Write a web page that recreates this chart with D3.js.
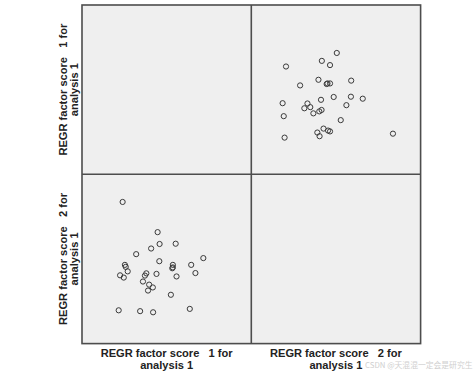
<!DOCTYPE html>
<html>
<head>
<meta charset="utf-8">
<script src="https://cdn.jsdelivr.net/npm/d3@7"></script>
<style>
  body { margin: 0; background: #fff; }
  svg text { font-family: Arial, "Liberation Sans", sans-serif; }
</style>
</head>
<body>
<div id="chart"></div>
<script>
// factor scores per case
const score1 = [-1.56, -0.32, -0.25, 0.32, -0.55, -1.08, -0.26, 1.30, 0.22, 0.22,
  0.87, 1.02, -1.48, -1.45, -1.38, -1.65, -1.52, -0.72, -0.77, -0.36,
  0.35, -0.84, -0.62, -0.49, -0.66, 0.15, -1.70, -0.94, -0.48, 0.82, 0.20];
const score2 = [2.02, 0.95, 0.53, 0.54, 0.37, 0.17, -0.08, 0.03, -0.21, -0.30,
  -0.21, -0.50, -0.21, -0.28, -0.44, -0.58, -0.66, -0.51, -0.59, -0.53,
  -0.62, -0.80, -0.91, -1.01, -1.12, -1.27, -1.82, -1.85, -1.89, -1.77, -0.33];
const varLabels = ["REGR factor score   1 for|analysis 1", "REGR factor score   2 for|analysis 1"];
const scoreDomain = [-3, 3];

document.addEventListener("DOMContentLoaded", function () {
  const width = 474, height = 379;
  const left = 82, top = 5, cell = 169.3;

  const svg = d3.select("#chart").append("svg")
    .attr("width", width)
    .attr("height", height);

  const cases = score1.map((d, i) => [score1[i], score2[i]]);

  for (let r = 0; r < 2; r++) {
    for (let c = 0; c < 2; c++) {
      const g = svg.append("g")
        .attr("transform", `translate(${left + c * cell},${top + r * cell})`);

      g.append("rect")
        .attr("width", cell)
        .attr("height", cell)
        .style("fill", "#efefef");

      if (r === c) continue; // diagonal left empty

      const x = d3.scaleLinear().domain(scoreDomain).range([0, cell]);
      const y = d3.scaleLinear().domain(scoreDomain).range([cell, 0]);

      g.selectAll(".point")
        .data(cases)
        .enter()
        .append("circle")
        .attr("class", "point")
        .attr("cx", (d) => x(d[c]))
        .attr("cy", (d) => y(d[r]))
        .attr("r", 2.6)
        .style("fill", "none")
        .style("stroke", "#3a3a3a")
        .style("stroke-width", 1);
    }
  }

  // grid lines
  const grid = svg.append("g")
    .style("stroke", "#4d4d4d")
    .style("stroke-width", 1.6)
    .style("fill", "none");
  grid.append("rect")
    .attr("x", left).attr("y", top)
    .attr("width", cell * 2).attr("height", cell * 2);
  grid.append("line")
    .attr("x1", left + cell).attr("x2", left + cell)
    .attr("y1", top).attr("y2", top + cell * 2);
  grid.append("line")
    .attr("x1", left).attr("x2", left + cell * 2)
    .attr("y1", top + cell).attr("y2", top + cell);

  // column labels
  varLabels.forEach((lab, i) => {
    const t = svg.append("text")
      .attr("x", left + cell * i + cell / 2)
      .attr("y", 357.3)
      .attr("text-anchor", "middle")
      .style("font-size", "11.1px")
      .style("font-weight", "bold")
      .style("fill", "#222")
      .style("white-space", "pre");
    lab.split("|").forEach((line, k) => {
      t.append("tspan")
        .attr("x", left + cell * i + cell / 2)
        .attr("dy", k === 0 ? 0 : 11.3)
        .text(line);
    });
  });

  // row labels
  varLabels.forEach((lab, i) => {
    const cy = top + cell * i + cell / 2;
    const t = svg.append("text")
      .attr("transform", `translate(66.5,${cy}) rotate(-90)`)
      .attr("text-anchor", "middle")
      .style("font-size", "11.1px")
      .style("font-weight", "bold")
      .style("fill", "#222")
      .style("white-space", "pre");
    lab.split("|").forEach((line, k) => {
      t.append("tspan")
        .attr("x", 0)
        .attr("dy", k === 0 ? 0 : 11.3)
        .text(line);
    });
  });

  // watermark
  svg.append("text")
    .attr("x", 365)
    .attr("y", 368)
    .style("font-size", "7.8px")
    .style("fill", "#cfcfcf")
    .style("font-family", "'Noto Sans CJK SC', sans-serif")
    .text("CSDN @天混混一定会是研究生");
});
</script>
</body>
</html>
